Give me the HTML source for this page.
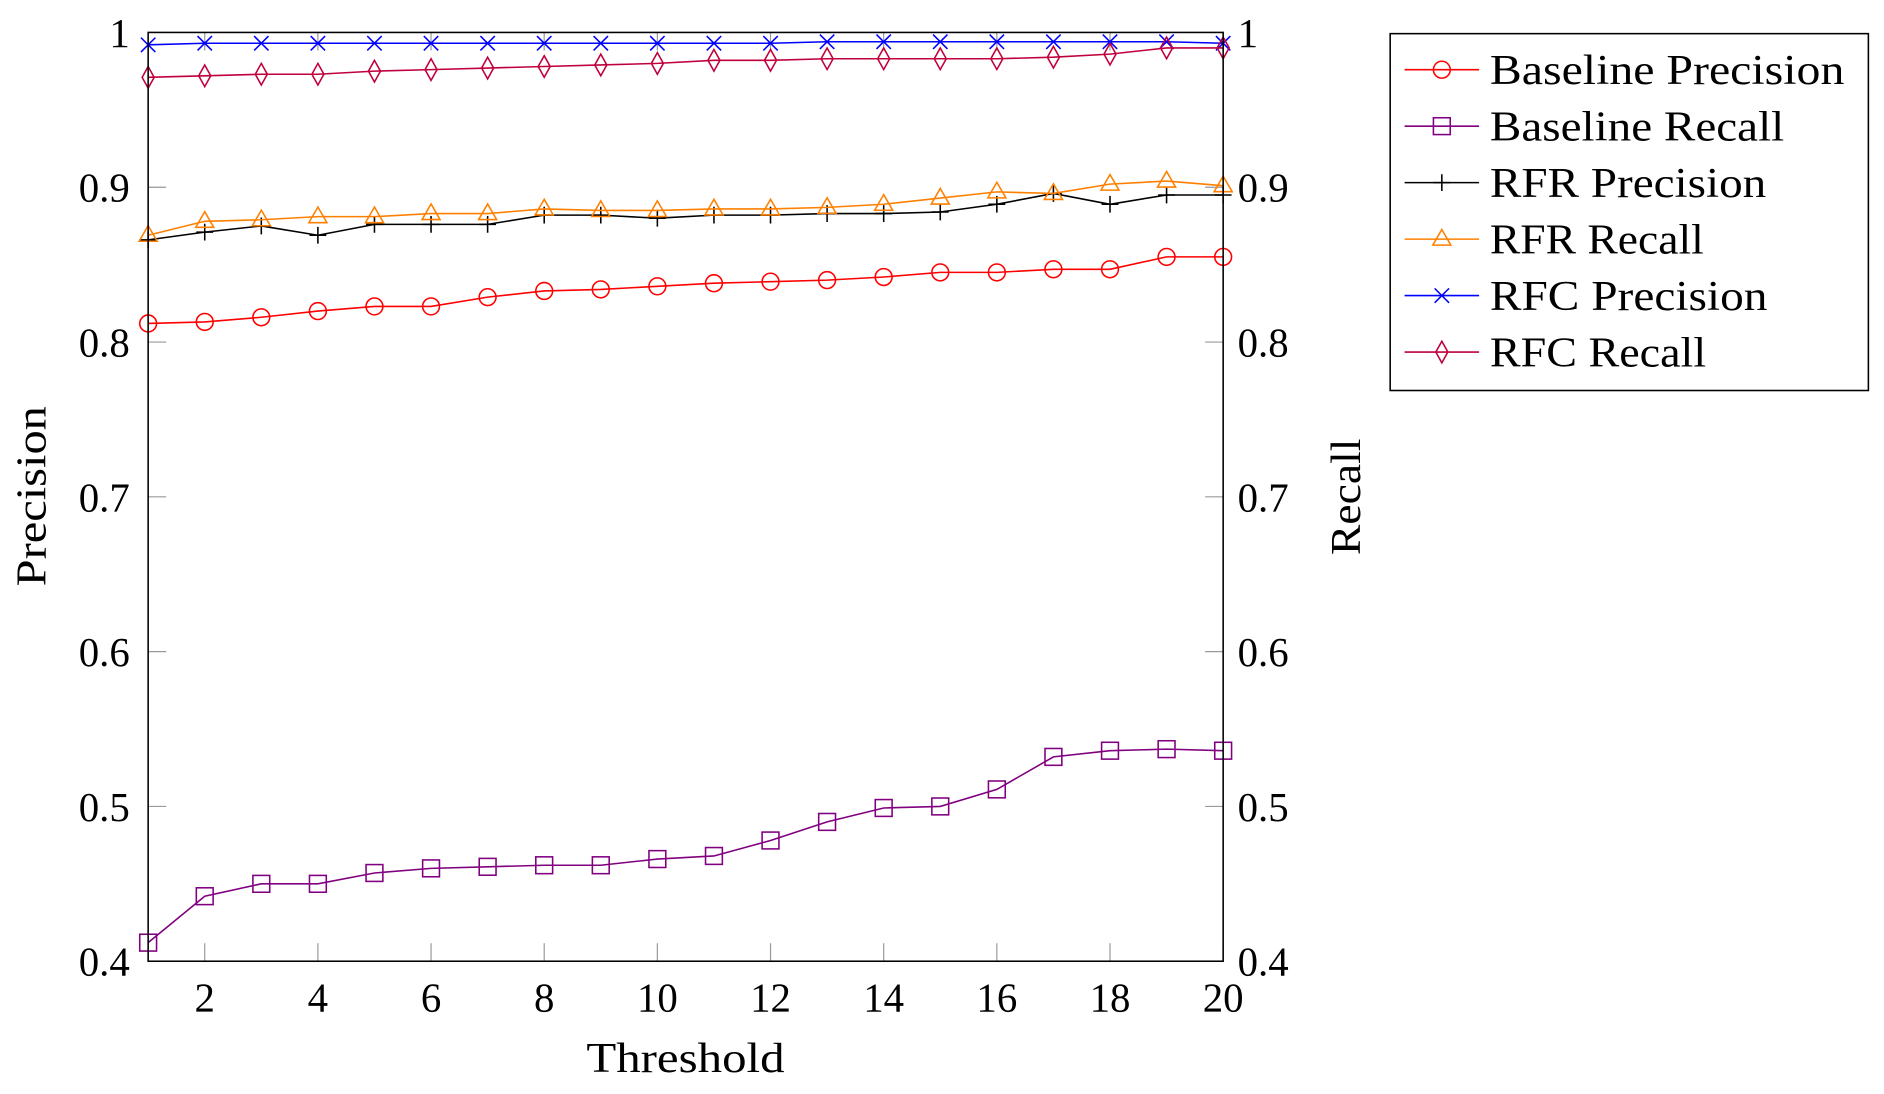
<!DOCTYPE html>
<html><head><meta charset="utf-8"><style>html,body{margin:0;padding:0;background:#fff}svg{display:block}text{font-family:"Liberation Serif",serif;fill:#000}</style></head>
<body>
<svg id="s" width="1884" height="1094" viewBox="0 0 1568 910.5" xmlns="http://www.w3.org/2000/svg"></svg>
<script>
const s=document.getElementById('s');let h='';
const L=123.3,R=1018,T=27,B=800;
const X=v=>L+(v-1)*(R-L)/19, Y=v=>B-(v-0.4)*(B-T)/0.6;
for(let v=2;v<=20;v+=2){h+=`<line x1="${X(v)}" y1="${B}" x2="${X(v)}" y2="${B-15}" stroke="#999" stroke-width="1"/><line x1="${X(v)}" y1="${T}" x2="${X(v)}" y2="${T+15}" stroke="#999" stroke-width="1"/>`;
h+=`<text x="${X(v)}" y="842" font-size="34" text-anchor="middle">${v}</text>`;}
for(let i=0;i<=6;i++){const v=0.4+i*0.1,y=Y(v),lab=i==6?'1':v.toFixed(1);
h+=`<line x1="${L}" y1="${y}" x2="${L+15}" y2="${y}" stroke="#999"/><line x1="${R}" y1="${y}" x2="${R-15}" y2="${y}" stroke="#999"/>`;
h+=`<text x="108" y="${y+12}" font-size="34" text-anchor="end">${lab}</text><text x="1030" y="${y+12}" font-size="34">${lab}</text>`;}
h+=`<text x="488" y="892" font-size="35" textLength="165" lengthAdjust="spacingAndGlyphs">Threshold</text>`;
h+=`<text transform="translate(38,488) rotate(-90)" font-size="35" textLength="150" lengthAdjust="spacingAndGlyphs">Precision</text>`;
h+=`<text transform="translate(1132,462) rotate(-90)" font-size="35" textLength="97" lengthAdjust="spacingAndGlyphs">Recall</text>`;
const S=[
['#ff0000','o','Baseline Precision',295,[.812,.813,.816,.820,.823,.823,.829,.833,.834,.836,.838,.839,.840,.842,.845,.845,.847,.847,.855,.855]],
['#800080','s','Baseline Recall',245,[.412,.442,.450,.450,.457,.460,.461,.462,.462,.466,.468,.478,.490,.499,.500,.511,.532,.536,.537,.536]],
['#000000','+','RFR Precision',230,[.866,.871,.875,.869,.876,.876,.876,.882,.882,.880,.882,.882,.883,.883,.884,.889,.896,.889,.895,.895]],
['#ff8000','t','RFR Recall',178,[.869,.878,.879,.881,.881,.883,.883,.886,.885,.885,.886,.886,.887,.889,.893,.897,.896,.902,.904,.901]],
['#0000ff','x','RFC Precision',231,[.992,.993,.993,.993,.993,.993,.993,.993,.993,.993,.993,.993,.994,.994,.994,.994,.994,.994,.994,.993]],
['#c0003c','d','RFC Recall',180,[.971,.972,.973,.973,.975,.976,.977,.978,.979,.980,.982,.982,.983,.983,.983,.983,.984,.986,.990,.990]]];
function mk(t,x,y,c){const a=`fill="none" stroke="${c}" stroke-width="1.3"`;
if(t=='o')return `<circle cx="${x}" cy="${y}" r="7" ${a}/>`;
if(t=='s')return `<rect x="${x-7}" y="${y-7}" width="14" height="14" ${a}/>`;
if(t=='+')return `<path d="M${x-7} ${y}H${x+7}M${x} ${y-7}V${y+7}" ${a}/>`;
if(t=='t')return `<path d="M${x} ${y-8}L${x+7.5} ${y+5}H${x-7.5}Z" ${a}/>`;
if(t=='x')return `<path d="M${x-6} ${y-6}L${x+6} ${y+6}M${x-6} ${y+6}L${x+6} ${y-6}" ${a}/>`;
if(t=='d')return `<path d="M${x} ${y-9}L${x+5} ${y}L${x} ${y+9}L${x-5} ${y}Z" ${a}/>`;}
S.forEach(([c,t,n,w,d],k)=>{h+=`<polyline fill="none" stroke="${c}" stroke-width="1.3" points="${d.map((v,i)=>X(i+1)+','+Y(v)).join(' ')}"/>`;
d.forEach((v,i)=>h+=mk(t,X(i+1),Y(v),c));
const ly=58+k*47;h+=`<line x1="1169" y1="${ly}" x2="1231" y2="${ly}" stroke="${c}" stroke-width="1.3"/>`+mk(t,1200,ly,c);
h+=`<text x="1240" y="${ly+12}" font-size="35" textLength="${w}" lengthAdjust="spacingAndGlyphs">${n}</text>`;});
h+=`<rect x="${L}" y="${T}" width="${R-L}" height="${B-T}" fill="none" stroke="#000" stroke-width="1.3"/>`;
h+=`<rect x="1157" y="28" width="398" height="297" fill="none" stroke="#000" stroke-width="1.3"/>`;
s.innerHTML=h;
</script>
</body></html>
